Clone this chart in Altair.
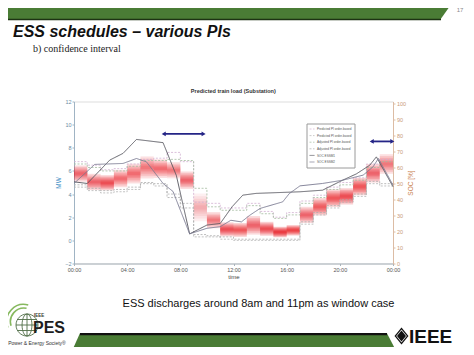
import altair as alt
import pandas as pd

# ---------------- data ----------------
hours = list(range(24))
load_center = [5.77, 5.05, 4.97, 5.34, 5.77, 6.3, 6.2, 6.06, 5.2, 2.85, 1.75, 0.95, 0.9, 1.3, 1.0, 0.72, 0.87,
               2.2, 2.9, 3.65, 3.8, 4.65, 5.8, 6.6]
load_halfwidth = [0.7, 0.7, 0.65, 0.75, 0.85, 0.95, 0.8, 0.7, 0.75, 1.2, 0.7, 0.6, 0.6, 0.8, 0.6, 0.45, 0.45,
                  0.7, 0.75, 0.75, 0.7, 0.75, 0.8, 0.85]
load_density = [0.6, 0.6, 0.75, 0.55, 0.55, 0.5, 0.55, 0.5, 0.6, 0.25, 0.5, 0.75, 0.7, 0.6, 0.75, 0.95, 0.85,
                0.6, 0.65, 0.7, 0.75, 0.7, 0.6, 0.5]

pred_upper = [6.8, 6.5, 6.1, 6.2, 6.6, 7.0, 7.1, 7.6, 6.8, 3.3, 3.2, 2.8, 2.8, 3.2, 2.5, 2.0, 2.4, 3.4, 3.9, 4.6,
              5.0, 5.4, 6.6, 7.0]
pred_lower = [4.6, 4.3, 4.1, 4.2, 4.4, 4.9, 4.7, 4.0, 3.2, 0.3, 0.3, 0.1, 0.0, 0.0, 0.0, 0.0, 0.0, 1.4, 2.2, 2.8,
              3.3, 3.8, 4.9, 4.7]
adj_upper = [6.6, 6.3, 6.0, 6.0, 6.4, 6.9, 6.9, 7.0, 6.9, 4.5, 2.9, 2.6, 2.6, 3.0, 2.3, 1.9, 2.2, 3.2, 3.7, 4.4,
             4.8, 5.2, 6.3, 6.8]
adj_lower = [4.8, 4.5, 4.3, 4.4, 4.6, 5.0, 4.9, 3.7, 2.8, 0.5, 0.4, 0.3, 0.1, 0.1, 0.1, 0.1, 0.1, 1.6, 2.4, 3.0,
             3.5, 4.0, 5.1, 4.9]

soc1_t = [0, 1, 2.69, 3.69, 4.7, 6.7, 7.7, 8.7, 10, 11, 11.9, 12.7, 13.7, 17, 18.7, 20.2, 21.25, 22.25, 22.75, 24]
soc1_v = [51, 50, 64.6, 68.8, 77.5, 75.5, 55, 18.5, 24, 25, 35.5, 42.7, 43.8, 44.8, 45.8, 52, 56, 61.4, 66.6, 48]
soc2_t = [0, 1.56, 3.69, 4.7, 5.45, 6.7, 7.45, 8.7, 10, 11, 11.8, 12.6, 13.2, 14, 15.7, 16.2, 17, 18.7, 20.2,
          21.75, 22.5, 22.9, 24]
soc2_v = [50, 61.9, 62.5, 65.6, 63.5, 50, 45, 18.5, 22, 23, 27, 26, 30, 34.4, 38.5, 43.7, 48.5, 50, 52, 55.2,
          60.4, 65.6, 49]

arrow_start = [6.75, 22.4]
arrow_end = [9.75, 23.95]
arrow_level = [9.2, 8.55]

series_keys = ["PU", "PL", "AU", "AL", "S1", "S2"]
series_colors = ["#d2b0d2", "#b4b4b4", "#a3bb9f", "#acacac", "#4f4f58", "#77778e"]
series_dash = [[2, 1.5], [2, 1.5], [2, 1.5], [2, 1.5], [1, 0], [1, 0]]

# ---------------- tables built from the arrays ----------------
band_levels = [1.0, 0.8, 0.62, 0.45, 0.3, 0.15]
band_rows = []
for h, c, w, d in zip(hours, load_center, load_halfwidth, load_density):
    for k in band_levels:
        band_rows.append(dict(t0=h, t1=h + 1, lo=c - w * k, hi=c + w * k, op=d * 0.27))
bands_df = pd.DataFrame(band_rows)

dash_rows = []
for key, vals in zip(["PU", "PL", "AU", "AL"], [pred_upper, pred_lower, adj_upper, adj_lower]):
    for t, v in zip(hours + [24], vals + [vals[-1]]):
        dash_rows.append(dict(t=t, v=v, series=key))
dash_df = pd.DataFrame(dash_rows)

soc_rows = [dict(t=t, v=v, series="S1") for t, v in zip(soc1_t, soc1_v)] + \
           [dict(t=t, v=v, series="S2") for t, v in zip(soc2_t, soc2_v)]
soc_df = pd.DataFrame(soc_rows)

arrow_df = pd.DataFrame(dict(a=arrow_start, b=arrow_end, y=arrow_level))

# ---------------- scales / axes ----------------
FONT = "Liberation Sans"
xscale = alt.Scale(domain=[0, 24], nice=False, zero=False)
xaxis = alt.Axis(values=[0, 4, 8, 12, 16, 20, 24],
                 labelExpr="(datum.value % 24 < 10 ? '0' : '') + (datum.value % 24) + ':00'",
                 labelFontSize=5.5, labelColor="#555555", labelPadding=1.5, tickSize=2,
                 tickColor="#a9b3bb", domainColor="#a9b3bb", title="time", titleFontSize=6,
                 titleFontWeight="normal", titleColor="#444444", titlePadding=1, grid=False,
                 labelFlush=False)
lscale = alt.Scale(domain=[-2, 12], nice=False, zero=False)
laxis = alt.Axis(values=[-2, 0, 2, 4, 6, 8, 10, 12], labelFontSize=5.5, labelColor="#6d8ca3",
                 labelPadding=1, tickSize=2, tickColor="#a0b4c4", domainColor="#a0b4c4", title="MW",
                 titleFontSize=6.5, titleFontWeight="normal", titleColor="#3c8dc4", titlePadding=3,
                 grid=False, orient="left")
rscale = alt.Scale(domain=[0, 101.2], nice=False, zero=False)
raxis = alt.Axis(values=list(range(0, 101, 10)), labelFontSize=5.5, labelColor="#c99a78",
                 labelPadding=1.5, tickSize=2, tickColor="#dcbca4", domainColor="#dcbca4",
                 title="SOC [%]", titleFontSize=6.5, titleFontWeight="normal", titleColor="#c8804e",
                 titlePadding=8, titleAngle=270, grid=False, orient="right")

label_expr = ("datum.value == 'PU' || datum.value == 'PL' ? 'Predicted PI order-based' : "
              "datum.value == 'AU' || datum.value == 'AL' ? 'Adjusted PI order-based' : "
              "datum.value == 'S1' ? 'SOC ESSM1' : 'SOC ESSM2'")
legend = alt.Legend(orient="none", legendX=232.5, legendY=22, title=None, fillColor="white",
                    strokeColor="#9a9a9a", padding=2.5, labelFontSize=3.1, labelColor="#555555",
                    labelFont=FONT, symbolType="stroke", symbolSize=25, symbolStrokeWidth=0.7,
                    rowPadding=0.6, labelOffset=2, labelExpr=label_expr, labelLimit=200)
color = alt.Color("series:N", scale=alt.Scale(domain=series_keys, range=series_colors), legend=legend)
dash = alt.StrokeDash("series:N", scale=alt.Scale(domain=series_keys, range=series_dash), legend=legend)

# ---------------- left (MW) layers ----------------
bands = alt.Chart(bands_df).mark_rect(color="#e8141c", strokeWidth=0).encode(
    x=alt.X("t0:Q", scale=xscale, axis=xaxis, title="time"),
    x2="t1:Q",
    y=alt.Y("lo:Q", scale=lscale, axis=laxis, title="MW"),
    y2="hi:Q",
    opacity=alt.Opacity("op:Q", scale=None),
)
dashed = alt.Chart(dash_df).mark_line(interpolate="step-after", strokeWidth=0.8).encode(
    x=alt.X("t:Q", scale=xscale, axis=xaxis, title="time"),
    y=alt.Y("v:Q", scale=lscale, axis=laxis, title="MW"),
    color=color, strokeDash=dash, detail="series:N",
)
arrow_line = alt.Chart(arrow_df).mark_rule(color="#242486", strokeWidth=1.8).encode(
    x=alt.X("a:Q", scale=xscale, axis=xaxis, title="time"), x2="b:Q",
    y=alt.Y("y:Q", scale=lscale, axis=laxis, title="MW"),
)
arrow_l = alt.Chart(arrow_df).mark_point(shape="triangle-left", filled=True, size=22, color="#242486",
                                         opacity=1).encode(
    x=alt.X("a:Q", scale=xscale, axis=xaxis, title="time"),
    y=alt.Y("y:Q", scale=lscale, axis=laxis, title="MW"),
)
arrow_r = alt.Chart(arrow_df).mark_point(shape="triangle-right", filled=True, size=22, color="#242486",
                                         opacity=1).encode(
    x=alt.X("b:Q", scale=xscale, axis=xaxis, title="time"),
    y=alt.Y("y:Q", scale=lscale, axis=laxis, title="MW"),
)
left = alt.layer(bands, dashed, arrow_line, arrow_l, arrow_r)

# ---------------- right (SOC) layer ----------------
right = alt.Chart(soc_df).mark_line(strokeWidth=0.9).encode(
    x=alt.X("t:Q", scale=xscale, axis=xaxis, title="time"),
    y=alt.Y("v:Q", scale=rscale, axis=raxis, title="SOC [%]"),
    color=color, strokeDash=dash, detail="series:N", order="t:Q",
)

# ---------------- slide decorations (pixel positions relative to plot origin) ----------------
one = pd.DataFrame({"k": [0]})


def txt(s, x, y, size, **kw):
    return alt.Chart(one).mark_text(text=s, fontSize=size, font=kw.pop("font", FONT), **kw).encode(
        x=alt.value(x), y=alt.value(y))


def shape(path, x, y, size, **kw):
    return alt.Chart(one).mark_point(shape=path, size=size, opacity=1, **kw).encode(
        x=alt.value(x), y=alt.value(y))


def rule(x1, x2, y, **kw):
    return alt.Chart(one).mark_rule(**kw).encode(x=alt.value(x1), x2=alt.value(x2), y=alt.value(y))


GREEN = "#4a7c35"
deco = [
    # top banner
    shape("M -1 -0.0317 L 1 -0.0317 L 0.955 0.0317 L -1 0.0317 Z", 155, -88.5, 442 ** 2,
          filled=True, color=GREEN, strokeWidth=0),
    rule(-66, 375, -95, color="#86ad72", strokeWidth=1.5),
    rule(-66, 367, -82, color="#1d3313", strokeWidth=1.3),
    txt("17", 386, -92, 6, color="#8a8a8a"),
    txt("ESS schedules \u2013 various PIs", -61, -64.5, 16, fontWeight="bold", fontStyle="italic",
        align="left", baseline="alphabetic", color="#111111"),
    txt("b) confidence interval", -41, -50, 10, font="Liberation Serif", align="left",
        baseline="alphabetic", color="#222222"),
    txt("Predicted train load (Substation)", 159.3, -10.5, 5.5, fontWeight="bold", color="#333333"),
    txt("ESS discharges around 8am and 11pm as window case", 184.5, 205, 11, align="center",
        baseline="alphabetic", color="#111111"),
    # bottom banner
    shape("M -0.957 -0.0481 L 0.950 -0.0481 L 1 0.0481 L -1 0.0481 Z", 160, 239.5, 322 ** 2,
          filled=True, color=GREEN, strokeWidth=0),
    rule(6, 313, 232.6, color="#111111", strokeWidth=2.2),
    # PES logo
    shape("M 0.25 -0.97 A 1 1 0 0 0 -0.95 0.35 M 0.15 -0.78 A 0.8 0.8 0 0 0 -0.76 0.25", -50, 220, 34 ** 2,
          filled=False, color="#86b85e", strokeWidth=1.6),
    shape("M -1 0 A 1 1 0 1 1 1 0 A 1 1 0 1 1 -1 0 Z M 0 -1 A 0.45 1 0 1 1 0 1 A 0.45 1 0 1 1 0 -1 "
          "M -1 0 L 1 0 M 0 -1 L 0 1 M -0.87 -0.5 L 0.87 -0.5 M -0.87 0.5 L 0.87 0.5",
          -47, 223.5, 22 ** 2, filled=False, color="#4f6d46", strokeWidth=0.9),
    txt("IEEE", -35, 214.5, 4.5, fontWeight="bold", color="#333333"),
    txt("PES", -41, 231.5, 16, fontWeight="bold", align="left", baseline="alphabetic", color="#1e1e1e"),
    txt("Power & Energy Society\u00ae", -37, 243.5, 5, align="center", baseline="alphabetic",
        color="#333333"),
    # IEEE logo
    shape("M 0 -1 L 0.82 0 L 0 1 L -0.82 0 Z", 327.5, 234.5, 17 ** 2, filled=True, color="#111111",
          strokeWidth=0),
    shape("M 0 -1 L 0.82 0 L 0 1 L -0.82 0 Z", 327.5, 234.5, 13 ** 2, filled=True, color="white",
          strokeWidth=0),
    shape("M 0 -1 L 0.82 0 L 0 1 L -0.82 0 Z", 327.5, 234.5, 11 ** 2, filled=True, color="#111111",
          strokeWidth=0),
    txt("IEEE", 335, 241, 19, fontWeight="bold", align="left", baseline="alphabetic", color="#111111"),
]

chart = alt.layer(left, right, *deco).resolve_scale(y="independent").properties(
    width=319, height=162, autosize="none",
    padding={"left": 66, "top": 93.5, "right": 73, "bottom": 83},
    background="white",
).configure_view(stroke=None).configure(font=FONT)

chart.save("out.html", embed_options={"renderer": "svg", "actions": False})
